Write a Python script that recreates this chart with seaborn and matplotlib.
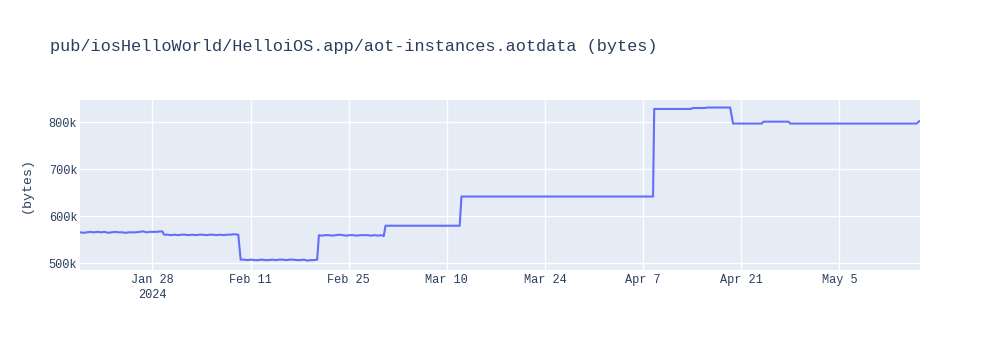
import matplotlib
matplotlib.use("Agg")
import matplotlib.pyplot as plt
import seaborn as sns
import pandas as pd

title = "pub/iosHelloWorld/HelloiOS.app/aot-instances.aotdata (bytes)"
y_label = "(bytes)"

times = [
    # ~566k segment
    "2024-01-17 16:00", "2024-01-18 04:00", "2024-01-18 16:00", "2024-01-19 04:00",
    "2024-01-19 16:00", "2024-01-20 04:00", "2024-01-20 16:00", "2024-01-21 04:00",
    "2024-01-21 16:00", "2024-01-22 04:00", "2024-01-22 16:00", "2024-01-23 04:00",
    "2024-01-23 16:00", "2024-01-24 04:00", "2024-01-24 16:00", "2024-01-25 04:00",
    "2024-01-25 16:00", "2024-01-26 04:00", "2024-01-26 16:00", "2024-01-27 04:00",
    "2024-01-27 16:00", "2024-01-28 04:00", "2024-01-28 16:00", "2024-01-29 04:00",
    "2024-01-29 10:00",
    # ~561k segment
    "2024-01-29 16:00", "2024-01-30 04:00", "2024-01-30 16:00", "2024-01-31 04:00",
    "2024-01-31 16:00", "2024-02-01 04:00", "2024-02-01 16:00", "2024-02-02 04:00",
    "2024-02-02 16:00", "2024-02-03 04:00", "2024-02-03 16:00", "2024-02-04 04:00",
    "2024-02-04 16:00", "2024-02-05 04:00", "2024-02-05 16:00", "2024-02-06 04:00",
    "2024-02-06 16:00", "2024-02-07 04:00", "2024-02-07 16:00", "2024-02-08 04:00",
    "2024-02-08 16:00", "2024-02-09 06:00",
    # ~508k segment
    "2024-02-09 14:00", "2024-02-10 02:00", "2024-02-10 14:00", "2024-02-11 02:00",
    "2024-02-11 14:00", "2024-02-12 02:00", "2024-02-12 14:00", "2024-02-13 02:00",
    "2024-02-13 14:00", "2024-02-14 02:00", "2024-02-14 14:00", "2024-02-15 02:00",
    "2024-02-15 14:00", "2024-02-16 02:00", "2024-02-16 14:00", "2024-02-17 02:00",
    "2024-02-17 14:00", "2024-02-18 02:00", "2024-02-18 14:00", "2024-02-19 02:00",
    "2024-02-19 14:00", "2024-02-20 02:00", "2024-02-20 12:00",
    # ~560k segment
    "2024-02-20 18:00", "2024-02-21 04:00", "2024-02-21 16:00", "2024-02-22 04:00",
    "2024-02-22 16:00", "2024-02-23 04:00", "2024-02-23 16:00", "2024-02-24 04:00",
    "2024-02-24 16:00", "2024-02-25 04:00", "2024-02-25 16:00", "2024-02-26 04:00",
    "2024-02-26 16:00", "2024-02-27 04:00", "2024-02-27 16:00", "2024-02-28 04:00",
    "2024-02-28 16:00", "2024-02-29 04:00", "2024-02-29 16:00", "2024-03-01 00:00",
    # flat segments
    "2024-03-01 06:00", "2024-03-06 12:00", "2024-03-11 20:00",
    "2024-03-12 02:00", "2024-04-08 10:00",
    "2024-04-08 14:00", "2024-04-13 20:00", "2024-04-14 02:00", "2024-04-15 20:00",
    "2024-04-16 02:00", "2024-04-19 10:00",
    "2024-04-19 20:00", "2024-04-23 22:00",
    "2024-04-24 04:00", "2024-04-27 18:00",
    "2024-04-28 00:00", "2024-05-16 00:00",
    "2024-05-16 12:00",
]

sizes_k = [
    566, 565, 566, 567, 566, 567, 566, 567, 565, 566, 567, 566, 566, 565, 566, 566,
    566, 567, 568, 566, 567, 567, 567, 568, 568,
    561, 561, 560, 561, 560, 561, 561, 560, 561, 560, 561, 561, 560, 561, 561, 560,
    561, 560, 561, 561, 562, 561,
    508, 508, 507, 508, 507, 507, 508, 507, 507, 508, 507, 508, 508, 507, 508, 508,
    507, 507, 508, 506, 507, 507, 508,
    560, 559, 560, 560, 559, 560, 561, 560, 559, 560, 560, 559, 560, 560, 560, 559,
    560, 559, 560, 558,
    580, 580, 580,
    642, 642,
    828, 828, 830, 830,
    831, 831,
    797, 797,
    801, 801,
    797, 797,
    803,
]

x_tick_dates = ["2024-01-28", "2024-02-11", "2024-02-25", "2024-03-10",
                "2024-03-24", "2024-04-07", "2024-04-21", "2024-05-05"]
x_tick_labels = ["Jan 28\n2024", "Feb 11", "Feb 25", "Mar 10",
                 "Mar 24", "Apr 7", "Apr 21", "May 5"]
y_ticks = [500000, 600000, 700000, 800000]
y_tick_labels = ["500k", "600k", "700k", "800k"]

df = pd.DataFrame({"time": pd.to_datetime(times),
                   "bytes": [v * 1000 for v in sizes_k]})

sns.set_theme(style="darkgrid")
plt.rcParams["font.family"] = ["Liberation Mono", "DejaVu Sans Mono"]
text_color = "#2a3f5f"

fig = plt.figure(figsize=(10, 3.5), dpi=100)
ax = fig.add_axes([0.08, 1 - 270 / 350, 0.84, 170 / 350])
ax.set_facecolor("#E5ECF6")

sns.lineplot(data=df, x="time", y="bytes", ax=ax, color="#636efa",
             linewidth=1.5, estimator=None)

ax.set_xlim(pd.Timestamp("2024-01-17 16:00"), pd.Timestamp("2024-05-16 12:00"))
ax.set_ylim(486000, 847000)
ax.set_xticks(pd.to_datetime(x_tick_dates))
ax.set_xticklabels(x_tick_labels, fontsize=8.6, color=text_color,
                   linespacing=1.35, ha="center")
ax.set_yticks(y_ticks)
ax.set_yticklabels(y_tick_labels, fontsize=8.6, color=text_color)
ax.tick_params(axis="both", length=0)
ax.tick_params(axis="x", pad=3)
ax.tick_params(axis="y", pad=2)
ax.grid(True, color="white", linewidth=1)
for s in ax.spines.values():
    s.set_visible(False)

ax.set_xlabel("")
ax.set_ylabel(y_label, fontsize=9.5, color=text_color)
ax.yaxis.set_label_coords(-0.056, 0.5)

fig.text(0.05, 1 - 46 / 350, title, fontsize=12.2, color=text_color,
         ha="left", va="center")

fig.savefig("out.png", dpi=100, facecolor="white")
